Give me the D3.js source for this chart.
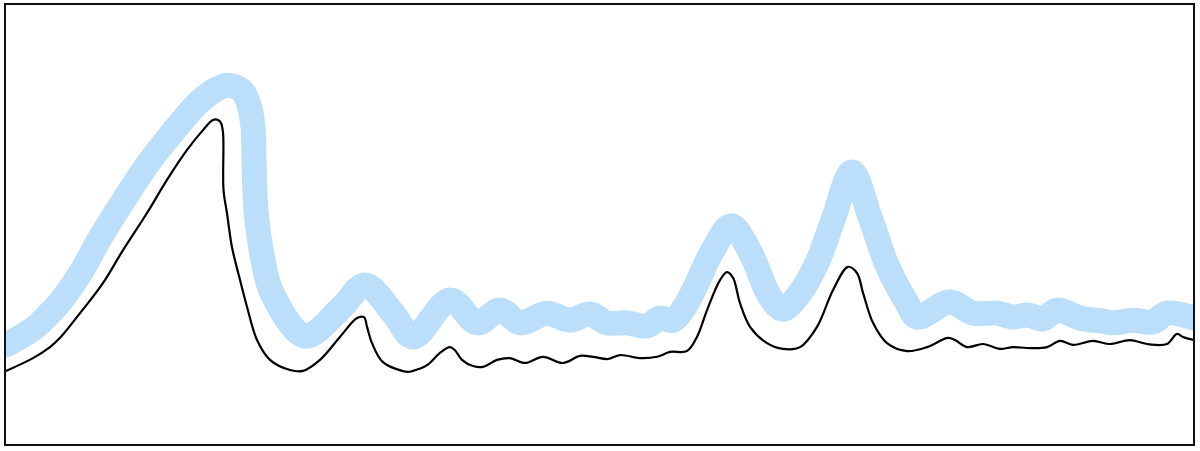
<!DOCTYPE html>
<html>
<head>
<meta charset="utf-8">
<script src="https://cdn.jsdelivr.net/npm/d3@7"></script>
<style>
  html, body { margin: 0; padding: 0; background: #fff; }
  svg { display: block; }
</style>
</head>
<body>
<script>
// Black (thin) series: x position 0..100, value 0..100
const blackX = [0, 2.27, 3.70, 4.55, 6.23, 8.16, 9.85, 11.87, 13.55, 15.24, 16.58, 17.42, 17.85, 18.10, 18.27, 18.31, 18.60, 19.02, 19.70, 20.29, 21.13, 22.22, 23.91, 25.0, 26.43, 28.11, 29.55, 30.13, 30.39, 30.81, 31.73, 33.75, 34.26, 35.44, 36.53, 37.37, 37.79, 38.38, 39.31, 40.15, 41.33, 42.42, 43.69, 45.20, 46.89, 48.32, 49.41, 50.67, 51.68, 53.37, 54.80, 55.89, 57.32, 58.16, 59.01, 60.10, 60.69, 61.20, 61.78, 62.63, 64.06, 65.40, 66.84, 68.27, 69.61, 70.88, 71.63, 72.14, 72.98, 74.16, 75.84, 77.53, 79.29, 79.88, 80.89, 82.24, 83.67, 84.76, 85.94, 87.63, 88.72, 89.81, 91.50, 92.93, 94.61, 96.04, 97.73, 98.57, 99.07, 100];
const blackY = [16.8, 19.7, 22.2, 24.3, 29.9, 36.7, 44.2, 52.6, 60.1, 66.9, 71.4, 73.7, 73.7, 73.0, 70.7, 57.8, 52.6, 44.9, 37.4, 31.3, 23.8, 19.3, 17.0, 16.8, 19.3, 24.5, 28.8, 29.0, 26.8, 23.1, 18.8, 16.6, 16.8, 18.1, 20.9, 22.2, 21.5, 19.3, 17.9, 17.7, 19.3, 19.7, 18.6, 20.0, 18.6, 20.2, 20.0, 19.5, 20.4, 19.7, 20.0, 21.1, 21.3, 24.5, 30.6, 37.4, 39.2, 37.9, 32.2, 26.8, 23.1, 21.8, 22.2, 26.8, 35.1, 40.4, 39.0, 34.5, 27.7, 23.1, 21.3, 22.2, 24.3, 23.8, 22.2, 22.9, 21.8, 22.2, 22.0, 22.2, 23.6, 22.7, 23.6, 22.9, 23.8, 22.9, 22.9, 25.2, 24.5, 23.8];

// Light blue (thick) series
const blueX = [0, 2.27, 3.70, 4.55, 6.23, 7.91, 10.19, 11.87, 14.06, 16.08, 17.59, 18.69, 19.87, 20.45, 20.79, 20.88, 21.04, 21.63, 22.39, 25.17, 28.28, 30.22, 32.58, 34.26, 37.37, 39.65, 41.58, 43.27, 45.54, 47.47, 49.16, 50.59, 52.27, 53.96, 55.05, 56.14, 57.32, 59.51, 61.03, 62.63, 64.31, 65.40, 66.84, 68.27, 69.61, 71.21, 72.73, 74.16, 75.84, 76.68, 79.46, 81.40, 83.42, 84.76, 85.94, 87.29, 88.47, 90.40, 92.34, 93.18, 94.87, 96.55, 97.73, 100];
const blueY = [22.7, 26.3, 29.9, 32.4, 38.8, 46.9, 56.7, 63.5, 71.0, 77.3, 80.5, 81.6, 80.3, 77.1, 72.1, 64.6, 53.3, 42.0, 34.5, 24.7, 31.3, 36.3, 29.9, 24.5, 32.9, 27.7, 30.6, 27.7, 29.9, 28.3, 29.7, 27.7, 27.7, 27.0, 28.8, 28.3, 32.2, 44.2, 49.7, 43.8, 33.6, 30.8, 34.5, 41.3, 51.0, 61.9, 51.7, 40.8, 32.2, 29.0, 32.4, 29.9, 29.9, 29.0, 29.5, 28.6, 30.6, 28.8, 28.1, 27.7, 28.3, 27.9, 29.9, 28.8];

const W = 1200, H = 451;
const frame = { left: 5, top: 4, right: 1194, bottom: 445 };

const svg = d3.select("body").append("svg").attr("width", W).attr("height", H);

const x = d3.scaleLinear().domain([0, 100]).range([frame.left + 1, frame.right]);
const y = d3.scaleLinear().domain([0, 100]).range([frame.bottom, frame.top]);

svg.append("defs").append("clipPath").attr("id", "clip")
  .append("rect")
  .attr("x", frame.left).attr("y", frame.top)
  .attr("width", frame.right - frame.left).attr("height", frame.bottom - frame.top);

const g = svg.append("g").attr("clip-path", "url(#clip)");

const blueData = blueX.map((d, i) => [d, blueY[i]]);
const blackData = blackX.map((d, i) => [d, blackY[i]]);

g.append("path")
  .datum(blueData)
  .attr("fill", "none")
  .attr("stroke", "#bbdefb")
  .attr("stroke-width", 25)
  .attr("stroke-linejoin", "round")
  .attr("stroke-linecap", "round")
  .attr("d", d3.line().x(d => x(d[0])).y(d => y(d[1])).curve(d3.curveCatmullRom.alpha(0.5)));

g.append("path")
  .datum(blackData)
  .attr("fill", "none")
  .attr("stroke", "#000")
  .attr("stroke-width", 2.2)
  .attr("stroke-linejoin", "round")
  .attr("d", d3.line().x(d => x(d[0])).y(d => y(d[1])).curve(d3.curveCatmullRom.alpha(0.5)));

svg.append("rect")
  .attr("x", frame.left).attr("y", frame.top)
  .attr("width", frame.right - frame.left).attr("height", frame.bottom - frame.top)
  .attr("fill", "none")
  .attr("stroke", "#111")
  .attr("stroke-width", 2);
</script>
</body>
</html>
